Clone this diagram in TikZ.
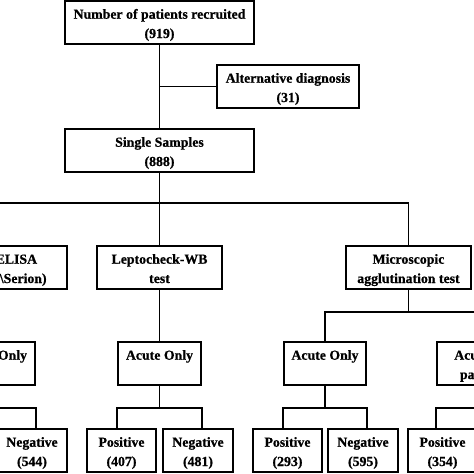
\documentclass[tikz,border=0pt]{standalone}
\usepackage{fontspec}
\setmainfont[BoldFeatures={FakeBold=0.7}]{Liberation Serif}
\begin{document}
\begin{tikzpicture}[x=1pt,y=-1pt,
  box/.style={draw=black,line width=1.8pt,minimum height=43pt,inner sep=0pt,
    align=center,font=\fontsize{13.8}{19.3}\selectfont\bfseries,
    text height=37pt,text depth=6pt},
  box1/.style={box,text height=17.7pt,text depth=25.3pt},
  link/.style={draw=black,line width=1.8pt}]
\useasboundingbox (0,0) rectangle (474,474);
\clip (0,0) rectangle (474,474);
% level 1
\node[box,minimum width=189pt] (top) at (159.5,22.5) {Number of patients recruited\\(919)};
\node[box,minimum width=142pt] (alt) at (288,86.5) {Alternative diagnosis\\(31)};
\node[box,minimum width=189pt] (single) at (159.5,150.5) {Single Samples\\(888)};
% tests
\node[box,minimum width=130pt] (elisa) at (2,267.5) {IgM ELISA\\(Virion\textbackslash Serion)};
\node[box,minimum width=125pt] (lepto) at (159.5,267.5) {Leptocheck-WB\\test};
\node[box,minimum width=125pt] (mat) at (408.5,267.5) {Microscopic\\agglutination test};
% acute
\node[box1,minimum width=83pt] (eacute) at (-6.5,363.5) {Acute Only};
\node[box1,minimum width=83pt] (lacute) at (159.5,363.5) {Acute Only};
\node[box1,minimum width=82pt] (macute) at (325,363.5) {Acute Only};
\node[box,minimum width=84pt] (pacute) at (479,363.5) {Acute \&\\paired};
% results
\node[box,minimum width=70pt] (epos) at (-42,450.5) {Positive\\(344)};
\node[box,minimum width=70pt] (eneg) at (32,450.5) {Negative\\(544)};
\node[box,minimum width=69pt] (lpos) at (121.5,450.5) {Positive\\(407)};
\node[box,minimum width=70pt] (lneg) at (198,450.5) {Negative\\(481)};
\node[box,minimum width=69pt] (mpos) at (287.5,450.5) {Positive\\(293)};
\node[box,minimum width=70pt] (mneg) at (363,450.5) {Negative\\(595)};
\node[box,minimum width=69pt] (ppos) at (442.5,450.5) {Positive\\(354)};
\node[box,minimum width=70pt] (pneg) at (517,450.5) {Negative\\(534)};
% connectors
\draw[link] (top.south) -- (single.north);
\draw[link] (alt.west) -- (alt.west -| top.south);
\coordinate (bus) at (159.5,203);
\draw[link] (single.south) -- (bus) -- (lepto.north);
\draw[link] ([xshift=-12pt]elisa.north) |- (bus) -| (mat.north);
\draw[link] (elisa.south -| eacute.north) -- (eacute.north);
\draw[link] (lepto.south) -- (lacute.north);
\coordinate (mb) at (408.5,312);
\draw[link] (mat.south) -- (mb);
\draw[link] (macute.north) |- (mb) -| (pacute.north);
% result buses
\coordinate (eb) at (-6.5,408);
\draw[link] (eacute.south) -- (eb);
\draw[link] (epos.north -| eacute.west) |- (eb) -| (eneg.north -| eacute.east);
\coordinate (lb) at (159.5,408);
\draw[link] (lacute.south) -- (lb);
\draw[link] (lpos.north -| lacute.west) |- (lb) -| (lneg.north -| lacute.east);
\coordinate (mrb) at (325,408);
\draw[link] (macute.south) -- (mrb);
\draw[link] (mpos.north -| macute.west) |- (mrb) -| (mneg.north -| macute.east);
\coordinate (pb) at (479,408);
\draw[link] (pacute.south) -- (pb);
\draw[link] (ppos.north -| pacute.west) |- (pb) -| (pneg.north -| pacute.east);
\end{tikzpicture}
\end{document}
